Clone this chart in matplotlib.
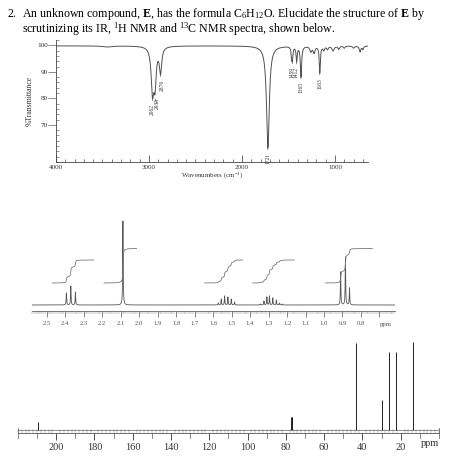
import numpy as np
import matplotlib
matplotlib.use('Agg')
import matplotlib.pyplot as plt
from matplotlib.ticker import MultipleLocator, FixedLocator

plt.rcParams['font.family'] = ['Liberation Serif', 'DejaVu Serif']
plt.rcParams['mathtext.fontset'] = 'custom'
plt.rcParams['mathtext.rm'] = 'Liberation Serif'
plt.rcParams['mathtext.bf'] = 'Liberation Serif:bold'
plt.rcParams['mathtext.it'] = 'Liberation Serif:italic'

# ---- IR bands (wavenumber, depth below baseline in %T, half width) ----
ir_pos = [3450, 2962, 2935, 2876, 1721, 1467, 1459, 1412, 1365, 1260, 1225,
          1163, 1120, 1080, 1020, 960, 900, 800, 730, 700]
ir_depth = [0.4, 16.5, 13.0, 9.5, 38.5, 3.0, 4.5, 5.5, 11.5, 2.0, 2.5,
            10.0, 1.5, 1.2, 1.8, 1.2, 0.8, 0.8, 2.2, 1.2]
ir_width = [60, 17, 15, 15, 18, 6, 7, 7, 8, 12, 12,
            7, 10, 10, 14, 10, 10, 12, 10, 8]
ir_baseline = 99.8
ir_labels = ['2962', '2935', '2876', '1721', '1459', '1412', '1365', '1163']

# ---- 1H NMR lines (ppm, height) ----
h_ppm = [2.394, 2.370, 2.345,
         2.088,
         1.572, 1.556, 1.538, 1.520, 1.502, 1.484,
         1.345, 1.325, 1.309, 1.295, 1.277, 1.258, 1.241, 1.226,
         0.910, 0.884, 0.862]
h_height = [12, 19, 13,
            84,
            2, 6, 9, 8, 6, 3,
            1, 4, 8, 9, 7, 5, 2, 1,
            33, 48, 17]
int_from = [2.47, 2.19, 1.646, 1.386, 0.992]
int_to = [2.246, 2.014, 1.44, 1.16, 0.738]
int_protons = [2, 3, 2, 2, 3]
h_ticks = [2.5, 2.4, 2.3, 2.2, 2.1, 2.0, 1.9, 1.8, 1.7, 1.6, 1.5, 1.4,
           1.3, 1.2, 1.1, 1.0, 0.9, 0.8]

# ---- 13C NMR lines (ppm, height) ----
c_ppm = [209.4, 77.3, 77.0, 76.7, 43.4, 29.8, 26.0, 22.3, 13.8]
c_height = [8, 13, 13, 13, 87, 30, 78, 78, 88]
c_ticks = [200, 180, 160, 140, 120, 100, 80, 60, 40, 20]

fig = plt.figure(figsize=(4.72, 4.75), dpi=100)

fig.text(0.015, 0.970, '2.', fontsize=8.6, va='center')
fig.text(0.047, 0.970,
         r'An unknown compound, $\mathbf{E}$, has the formula '
         r'$\mathrm{C_6H_{12}O}$. Elucidate the structure of $\mathbf{E}$ by',
         fontsize=8.6, va='center')
fig.text(0.047, 0.938,
         r'scrutinizing its IR, $^{1}$H NMR and $^{13}$C NMR spectra, shown below.',
         fontsize=8.6, va='center')

# ---------------- IR ----------------
ax = fig.add_axes([0.1186, 0.659, 0.661, 0.2568])
wn = np.linspace(4000, 645, 4000)
trans = np.full_like(wn, ir_baseline)
for p, d, w in zip(ir_pos, ir_depth, ir_width):
    trans -= d / (1 + ((wn - p) / w) ** 2)
ax.plot(wn, trans, color='#505050', lw=0.7)
ax.set_xlim(4000, 645)
ax.set_ylim(56, 102)
for s in ['top', 'right']:
    ax.spines[s].set_visible(False)
for s in ['left', 'bottom']:
    ax.spines[s].set_linewidth(0.6)
    ax.spines[s].set_color('#444')
ax.xaxis.set_major_locator(FixedLocator([4000, 3000, 2000, 1000]))
ax.xaxis.set_minor_locator(MultipleLocator(100))
ax.yaxis.set_major_locator(FixedLocator([70, 80, 90, 100]))
ax.yaxis.set_minor_locator(MultipleLocator(2))
ax.tick_params(axis='x', which='major', direction='in', length=5, width=0.5,
               labelsize=5, pad=2, colors='#333')
ax.tick_params(axis='x', which='minor', direction='in', length=2.5, width=0.5,
               colors='#444')
ax.tick_params(axis='y', which='major', direction='out', length=6, width=0.4,
               labelsize=5.2, pad=0, colors='#333')
ax.tick_params(axis='y', which='minor', direction='in', length=2, width=0.4,
               colors='#444')
ax.set_xlabel('Wavenumbers (cm$^{-1}$)', fontsize=5, labelpad=0, color='#333')
ax.set_ylabel('%Transmittance', fontsize=5.5, labelpad=2, color='#333')

label_dx = {'2962': 6, '2935': -22, '2876': -15, '1721': 0,
            '1459': 8, '1412': 4, '1365': 0, '1163': 0}
for lab in ir_labels:
    p = float(lab)
    i = np.argmin(np.abs(wn - p))
    tmin = trans[max(i - 40, 0):i + 40].min()
    ty = tmin - 1.8
    if lab == '2935':
        ty = tmin + 0.3
    ax.annotate(lab, xy=(p, tmin), xytext=(p + label_dx[lab], ty),
                rotation=90, fontsize=4, ha='center', va='top', color='#333',
                arrowprops=dict(arrowstyle='-', lw=0.4, color='#444',
                                shrinkA=0, shrinkB=0))

# ---------------- 1H NMR ----------------
ax = fig.add_axes([0.0678, 0.3453, 0.769, 0.2021])
ppm = np.linspace(2.58, 0.616, 12000)
spec = np.zeros_like(ppm)
lw = 0.0015
for p, h in zip(h_ppm, h_height):
    spec += h / (1 + ((ppm - p) / lw) ** 2)
ax.plot(ppm, spec, color='#555', lw=0.6)
for a, b, n in zip(int_from, int_to, int_protons):
    m = (ppm <= a) & (ppm >= b)
    seg = np.cumsum(spec[m])
    seg = 22 + seg / seg[-1] * n * 11.5
    ax.plot(ppm[m], seg, color='#777', lw=0.6)
ax.set_xlim(2.58, 0.616)
ax.set_ylim(-6, 90)
for s in ['top', 'right', 'left']:
    ax.spines[s].set_visible(False)
ax.spines['bottom'].set_linewidth(0.6)
ax.spines['bottom'].set_color('#666')
ax.set_yticks([])
ax.xaxis.set_major_locator(FixedLocator(h_ticks + [0.7]))
ax.set_xticklabels(['%.1f' % t for t in h_ticks] + [''])
ax.xaxis.set_minor_locator(MultipleLocator(0.01))
ax.tick_params(axis='x', which='major', direction='out', length=4, width=0.5,
               labelsize=4.8, pad=3, colors='#555')
ax.tick_params(axis='x', which='minor', direction='out', length=2, width=0.3,
               colors='#777')
ax.text(0.664, -0.11, 'ppm', transform=ax.get_xaxis_transform(),
        fontsize=4.8, ha='center', va='top', color='#555')

# ---------------- 13C NMR ----------------
ax = fig.add_axes([0.038, 0.0884, 0.892, 0.1958])
ax.vlines(c_ppm, 0, c_height, color='#222', lw=0.7)
ax.axhline(0, color='#666', lw=0.5)
ax.set_xlim(220, 0)
ax.set_ylim(-3, 90)
for s in ['top', 'right', 'left']:
    ax.spines[s].set_visible(False)
ax.spines['bottom'].set_linewidth(0.6)
ax.spines['bottom'].set_color('#555')
ax.set_yticks([])
ax.xaxis.set_major_locator(FixedLocator(c_ticks))
ax.xaxis.set_minor_locator(MultipleLocator(2))
ax.tick_params(axis='x', which='major', direction='out', length=5, width=0.6,
               labelsize=7.5, pad=2, colors='#333')
ax.tick_params(axis='x', which='minor', direction='in', length=3, width=0.3,
               colors='#777')
for t in [220, 210, 190, 170, 150, 130, 110, 90, 70, 50, 30, 10, 0]:
    ax.plot([t, t], [-8, 2 if t in (220, 0) else -3], color='#555', lw=0.5,
            clip_on=False)
ax.text(4.8, -0.06, 'ppm', transform=ax.get_xaxis_transform(),
        fontsize=7.5, ha='center', va='top', color='#333')

fig.savefig('out.png', dpi=100)
